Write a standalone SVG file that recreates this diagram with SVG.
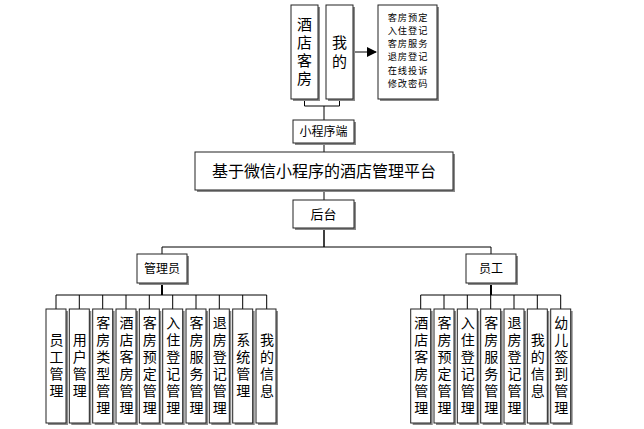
<svg xmlns="http://www.w3.org/2000/svg" width="644" height="429" viewBox="0 0 644 429">
<style>
.sh{fill:#8a8a8a}
.bx{fill:#fff;stroke:#222;stroke-width:1}
.t{font-family:"Noto Sans CJK SC","Noto Sans",sans-serif;fill:#000;text-anchor:middle}
.c{fill:none;stroke:#000;stroke-width:1}
.v{font-size:14px;writing-mode:vertical-rl;letter-spacing:3px}
</style>
<defs>
<marker id="ah" markerWidth="10" markerHeight="10" refX="9" refY="5" orient="auto" markerUnits="userSpaceOnUse">
<path d="M0,0 L10,5 L0,10 Z" fill="#000"/>
</marker>
</defs>
<rect width="644" height="429" fill="#fff"/>
<g id="connectors">
<path class="c" d="M304.5,99 V106 H339.5 V99 M324,106 V120"/>
<path class="c" d="M353,52 H376" marker-end="url(#ah)"/>
<path class="c" d="M324,143 V152 M324,190 V200"/>
<path class="c" style="stroke-width:1.5" d="M324,228 V247"/>
<path class="c" d="M162,254 V247 H491 V254"/>
<path class="c" style="stroke-width:2" d="M162,283 V295 M491,283 V295"/>
<path class="c" d="M56,309 V295 H266.7 V309 M79.3,295 V309 M102.7,295 V309 M126,295 V309 M149.3,295 V309 M172.7,295 V309 M196,295 V309 M219.3,295 V309 M242.7,295 V309"/>
<path class="c" d="M420.7,309 V295 H560.7 V309 M444,295 V309 M467.3,295 V309 M490.7,295 V309 M514,295 V309 M537.3,295 V309"/>
</g>
<g id="n-hotelroom">
<rect class="sh" x="293" y="7" width="27" height="94"/><rect class="bx" x="291" y="5" width="27" height="94"/>
<text class="t" x="304.5" y="53" style="font-size:15px;writing-mode:vertical-rl;letter-spacing:3px">酒店客房</text>
</g>
<g id="n-mine">
<rect class="sh" x="328" y="7" width="27" height="94"/><rect class="bx" x="326" y="5" width="27" height="94"/>
<text class="t" x="339.5" y="54" style="font-size:15px;writing-mode:vertical-rl;letter-spacing:4px">我的</text>
</g>
<g id="n-funcs">
<rect class="sh" x="380" y="7" width="59" height="94"/><rect class="bx" x="378" y="5" width="59" height="94"/>
<g class="t" style="font-size:9.2px;letter-spacing:1px">
<text x="408" y="20.5">客房预定</text>
<text x="408" y="33.8">入住登记</text>
<text x="408" y="47.1">客房服务</text>
<text x="408" y="60.4">退房登记</text>
<text x="408" y="73.7">在线投诉</text>
<text x="408" y="87">修改密码</text>
</g>
</g>
<g id="n-mini">
<rect class="sh" x="295" y="122" width="61" height="23"/><rect class="bx" x="293" y="120" width="61" height="23"/>
<text class="t" x="323.5" y="136" style="font-size:12px">小程序端</text>
</g>
<g id="n-platform">
<rect class="sh" x="197" y="154" width="258" height="38"/><rect class="bx" x="195" y="152" width="258" height="38"/>
<text class="t" x="324" y="177" style="font-size:16px">基于微信小程序的酒店管理平台</text>
</g>
<g id="n-backend">
<rect class="sh" x="295" y="202" width="61" height="28"/><rect class="bx" x="293" y="200" width="61" height="28"/>
<text class="t" x="323.5" y="219" style="font-size:13px">后台</text>
</g>
<g id="n-admin">
<rect class="sh" x="139" y="256" width="50" height="29"/><rect class="bx" x="137" y="254" width="50" height="29"/>
<text class="t" x="162" y="273" style="font-size:12px">管理员</text>
</g>
<g id="n-staff">
<rect class="sh" x="468" y="256" width="50" height="29"/><rect class="bx" x="466" y="254" width="50" height="29"/>
<text class="t" x="491" y="273" style="font-size:12px">员工</text>
</g>
<g id="n-a1"><rect class="sh" x="48" y="311" width="20" height="114"/><rect class="bx" x="46" y="309" width="20" height="114"/>
<text class="t v" x="56.5" y="367">员工管理</text></g>
<g id="n-a2"><rect class="sh" x="71.3" y="311" width="20" height="114"/><rect class="bx" x="69.3" y="309" width="20" height="114"/>
<text class="t v" x="79.8" y="367">用户管理</text></g>
<g id="n-a3"><rect class="sh" x="94.7" y="311" width="20" height="114"/><rect class="bx" x="92.7" y="309" width="20" height="114"/>
<text class="t v" x="103.2" y="367">客房类型管理</text></g>
<g id="n-a4"><rect class="sh" x="118" y="311" width="20" height="114"/><rect class="bx" x="116" y="309" width="20" height="114"/>
<text class="t v" x="126.5" y="367">酒店客房管理</text></g>
<g id="n-a5"><rect class="sh" x="141.3" y="311" width="20" height="114"/><rect class="bx" x="139.3" y="309" width="20" height="114"/>
<text class="t v" x="149.8" y="367">客房预定管理</text></g>
<g id="n-a6"><rect class="sh" x="164.7" y="311" width="20" height="114"/><rect class="bx" x="162.7" y="309" width="20" height="114"/>
<text class="t v" x="173.2" y="367">入住登记管理</text></g>
<g id="n-a7"><rect class="sh" x="188" y="311" width="20" height="114"/><rect class="bx" x="186" y="309" width="20" height="114"/>
<text class="t v" x="196.5" y="367">客房服务管理</text></g>
<g id="n-a8"><rect class="sh" x="211.3" y="311" width="20" height="114"/><rect class="bx" x="209.3" y="309" width="20" height="114"/>
<text class="t v" x="219.8" y="367">退房登记管理</text></g>
<g id="n-a9"><rect class="sh" x="234.7" y="311" width="20" height="114"/><rect class="bx" x="232.7" y="309" width="20" height="114"/>
<text class="t v" x="243.2" y="367">系统管理</text></g>
<g id="n-a10"><rect class="sh" x="258" y="311" width="20" height="114"/><rect class="bx" x="256" y="309" width="20" height="114"/>
<text class="t v" x="267" y="367">我的信息</text></g>
<g id="n-s1"><rect class="sh" x="412.7" y="311" width="20" height="114"/><rect class="bx" x="410.7" y="309" width="20" height="114"/>
<text class="t v" x="421.2" y="367">酒店客房管理</text></g>
<g id="n-s2"><rect class="sh" x="436" y="311" width="20" height="114"/><rect class="bx" x="434" y="309" width="20" height="114"/>
<text class="t v" x="444.5" y="367">客房预定管理</text></g>
<g id="n-s3"><rect class="sh" x="459.3" y="311" width="20" height="114"/><rect class="bx" x="457.3" y="309" width="20" height="114"/>
<text class="t v" x="467.8" y="367">入住登记管理</text></g>
<g id="n-s4"><rect class="sh" x="482.7" y="311" width="20" height="114"/><rect class="bx" x="480.7" y="309" width="20" height="114"/>
<text class="t v" x="491.2" y="367">客房服务管理</text></g>
<g id="n-s5"><rect class="sh" x="506" y="311" width="20" height="114"/><rect class="bx" x="504" y="309" width="20" height="114"/>
<text class="t v" x="514.5" y="367">退房登记管理</text></g>
<g id="n-s6"><rect class="sh" x="529.3" y="311" width="20" height="114"/><rect class="bx" x="527.3" y="309" width="20" height="114"/>
<text class="t v" x="537.8" y="367">我的信息</text></g>
<g id="n-s7"><rect class="sh" x="552.7" y="311" width="20" height="114"/><rect class="bx" x="550.7" y="309" width="20" height="114"/>
<text class="t v" x="561.2" y="367">幼儿签到管理</text></g>
</svg>
